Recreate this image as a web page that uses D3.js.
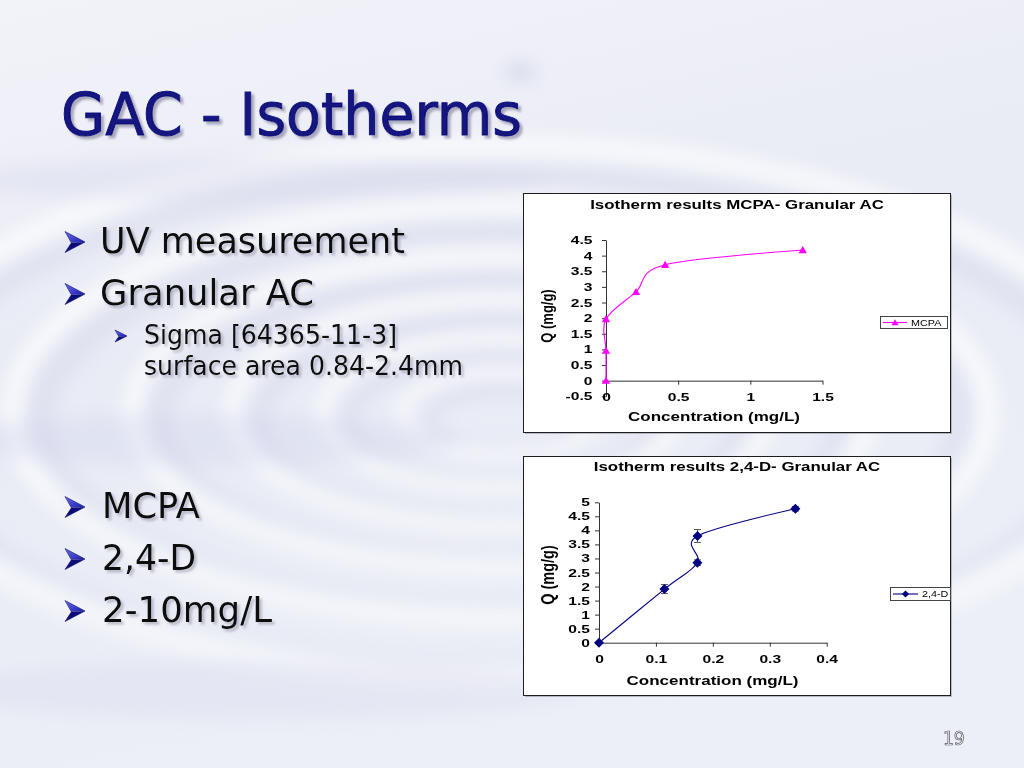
<!DOCTYPE html>
<html><head><meta charset="utf-8">
<script src="https://cdn.jsdelivr.net/npm/d3@7"></script>
<style>html,body{margin:0;padding:0;overflow:hidden;background:#e9ebf4}</style>
</head><body>
<svg id="slide" width="1024" height="768" xmlns="http://www.w3.org/2000/svg"></svg>
<script>
// ---------------- data ----------------
const slideTitle = "GAC - Isotherms";
const bulletsTop = ["UV measurement", "Granular AC"];
const subBullet = ["Sigma [64365-11-3]", "surface area 0.84-2.4mm"];
const bulletsBottom = ["MCPA", "2,4-D", "2-10mg/L"];
const pageNumber = "19";

const chartTitles = ["Isotherm results MCPA- Granular AC", "Isotherm results 2,4-D- Granular AC"];
const xAxisTitle = "Concentration (mg/L)";
const yAxisTitle = "Q (mg/g)";
const seriesNames = ["MCPA", "2,4-D"];

const mcpaConc = [0, 0, 0, 0.208, 0.41, 1.363];
const mcpaQ    = [0, 0.96, 1.97, 2.84, 3.71, 4.18];
const mcpaXTicks = [0, 0.5, 1, 1.5];
const mcpaYTicks = [-0.5, 0, 0.5, 1, 1.5, 2, 2.5, 3, 3.5, 4, 4.5];

const d24Conc = [0, 0.115, 0.1728, 0.173, 0.345];
const d24Q    = [0, 1.91, 2.85, 3.8, 4.77];
const d24Err  = [0, 0.16, 0.1, 0.23, 0.08];
const d24XTicks = [0, 0.1, 0.2, 0.3, 0.4];
const d24YTicks = [0, 0.5, 1, 1.5, 2, 2.5, 3, 3.5, 4, 4.5, 5];

// ---------------- slide ----------------
const svg = d3.select("#slide");
const defs = svg.append("defs");

const bg = defs.append("linearGradient").attr("id", "bg").attr("x1", 0).attr("y1", 0).attr("x2", 0.3).attr("y2", 1);
bg.append("stop").attr("offset", "0%").attr("stop-color", "#f2f3f9");
bg.append("stop").attr("offset", "45%").attr("stop-color", "#e9ebf5");
bg.append("stop").attr("offset", "100%").attr("stop-color", "#edeff7");
defs.append("filter").attr("id", "blur").attr("x", "-20%").attr("y", "-20%").attr("width", "140%").attr("height", "140%")
  .append("feGaussianBlur").attr("stdDeviation", 8);
const ts = defs.append("filter").attr("id", "tshadow").attr("x", "-5%").attr("y", "-20%").attr("width", "115%").attr("height", "150%");
ts.append("feDropShadow").attr("dx", 2.5).attr("dy", 2.5).attr("stdDeviation", 1)
  .attr("flood-color", "#8a8aa0").attr("flood-opacity", 0.55);
const tsT = defs.append("filter").attr("id", "tshadowT").attr("x", "-5%").attr("y", "-20%").attr("width", "115%").attr("height", "150%");
tsT.append("feDropShadow").attr("dx", 3).attr("dy", 3).attr("stdDeviation", 1.2)
  .attr("flood-color", "#6e6e8c").attr("flood-opacity", 0.55);

svg.append("rect").attr("width", 1024).attr("height", 768).attr("fill", "url(#bg)");

// soft water ripples
const ripples = svg.append("g").attr("filter", "url(#blur)");
const ringR = [70, 150, 240, 340, 460, 600];
ringR.forEach((r, i) => {
  ripples.append("ellipse").attr("cx", 500).attr("cy", 420).attr("rx", r).attr("ry", r * 0.42)
    .attr("fill", "none").attr("stroke", "#cdd0e6").attr("stroke-width", 14 + i * 4).attr("opacity", 0.35);
  ripples.append("ellipse").attr("cx", 500).attr("cy", 412).attr("rx", r + 28).attr("ry", (r + 28) * 0.42)
    .attr("fill", "none").attr("stroke", "#ffffff").attr("stroke-width", 12 + i * 3).attr("opacity", 0.6);
});
ripples.append("ellipse").attr("cx", 250).attr("cy", 180).attr("rx", 300).attr("ry", 22).attr("fill", "#d6d9ec").attr("opacity", 0.4);
ripples.append("ellipse").attr("cx", 200).attr("cy", 440).attr("rx", 260).attr("ry", 26).attr("fill", "#d3d6ea").attr("opacity", 0.4);
ripples.append("ellipse").attr("cx", 260).attr("cy", 690).attr("rx", 320).attr("ry", 30).attr("fill", "#d6d9ec").attr("opacity", 0.35);
ripples.append("ellipse").attr("cx", 520).attr("cy", 72).attr("rx", 16).attr("ry", 9).attr("fill", "#cdd0e4").attr("opacity", 0.6);

const FONT = "'DejaVu Sans Condensed','DejaVu Sans',Tahoma,sans-serif";
function slideText(str, x, y, size, len, fill, filt, stroke) {
  svg.append("text").attr("x", x).attr("y", y).text(str)
    .attr("font-family", FONT).attr("font-size", size).attr("font-stretch", "condensed")
    .attr("textLength", len).attr("lengthAdjust", "spacingAndGlyphs")
    .attr("fill", fill).attr("stroke", fill).attr("stroke-width", stroke || 0)
    .attr("filter", `url(#${filt})`);
}
const arrowGrad = defs.append("linearGradient").attr("id", "arr").attr("x1", 0).attr("y1", 0).attr("x2", 1).attr("y2", 1);
arrowGrad.append("stop").attr("offset", "0%").attr("stop-color", "#6c6cf0");
arrowGrad.append("stop").attr("offset", "100%").attr("stop-color", "#1a1aa8");
function arrow(cx, cy, w, h) {
  const g = svg.append("g").attr("transform", `translate(${cx},${cy})`);
  const tip = [w / 2, 0], top = [-w / 2, -h / 2], bot = [-w / 2, h / 2], notch = [-w * 0.18, h * 0.04];
  g.append("path").attr("d", `M${top}L${tip}L${notch}Z`).attr("fill", "url(#arr)");
  g.append("path").attr("d", `M${notch}L${tip}L${bot}Z`).attr("fill", "#0c0c78");
  g.append("path").attr("d", `M${top}L${tip}L${bot}L${notch}Z`).attr("fill", "none").attr("stroke", "#101070").attr("stroke-width", 0.6);
}

slideText(slideTitle, 61, 135, 59, 461, "#12127f", "tshadowT", 0.9);

const topBase = [253, 305];
bulletsTop.forEach((t, i) => { arrow(75, topBase[i] - 11, 20, 21); });
slideText(bulletsTop[0], 100, topBase[0], 35, 305, "#0a0a0a", "tshadow");
slideText(bulletsTop[1], 100, topBase[1], 35, 214, "#0a0a0a", "tshadow");
arrow(121, 336, 12, 12);
slideText(subBullet[0], 144, 344, 27, 253, "#0a0a0a", "tshadow");
slideText(subBullet[1], 144, 375, 27, 319, "#0a0a0a", "tshadow");

const botBase = [518, 570, 622];
const botLen = [98, 94, 170];
bulletsBottom.forEach((t, i) => {
  arrow(75, botBase[i] - 11, 20, 21);
  slideText(t, 102, botBase[i], 35, botLen[i], "#0a0a0a", "tshadow");
});

svg.append("text").attr("x", 943).attr("y", 745).text(pageNumber)
  .attr("font-family", FONT).attr("font-size", 19).attr("fill", "#f4f4f8").attr("stroke", "#55555f").attr("stroke-width", 0.7);

// ---------------- charts ----------------
const CF = "'Liberation Sans',Arial,Helvetica,sans-serif";
function stext(g, x, y, str, o) {
  return g.append("text").attr("transform", `translate(${x},${y}) scale(${o.sx},1)` + (o.rot ? ` rotate(${o.rot})` : ""))
    .attr("text-anchor", o.anchor || "middle").attr("font-family", CF).attr("font-size", o.size)
    .attr("font-weight", o.weight || "bold").attr("fill", "#000").text(str);
}

function drawChart(cfg) {
  const g = svg.append("g");
  const [bx0, by0, bx1, by1] = cfg.box;
  g.append("rect").attr("x", bx0 + 2).attr("y", by0 + 2).attr("width", bx1 - bx0).attr("height", by1 - by0).attr("fill", "rgba(90,90,110,0.35)");
  g.append("rect").attr("x", bx0 + 0.5).attr("y", by0 + 0.5).attr("width", bx1 - bx0).attr("height", by1 - by0)
    .attr("fill", "#fff").attr("stroke", "#1e1e1e").attr("stroke-width", 1);

  const x = d3.scaleLinear().domain(cfg.xDomain).range(cfg.xRange);
  const y = d3.scaleLinear().domain(cfg.yDomain).range(cfg.yRange);

  stext(g, (bx0 + bx1) / 2 + 0.5, cfg.titleY, cfg.title, { size: 13, sx: 1.3 });
  stext(g, cfg.xTitlePos[0], cfg.xTitlePos[1], xAxisTitle, { size: 13.5, sx: 1.26 });
  stext(g, cfg.yTitlePos[0], cfg.yTitlePos[1], yAxisTitle, { size: cfg.yTitleSize, sx: 1.25, rot: -90 });

  const TS = 11, SX = 1.42;
  const ya = g.append("g").attr("transform", `translate(${x(0)},0)`)
    .call(d3.axisLeft(y).tickValues(cfg.yTicks).tickSize(4).tickSizeOuter(0).tickPadding(cfg.yPad).tickFormat(d => String(d)));
  const xa = g.append("g").attr("transform", `translate(0,${y(0)})`)
    .call(d3.axisBottom(x).tickValues(cfg.xTicks).tickSize(4).tickSizeOuter(0).tickPadding(8.5).tickFormat(d => String(d)));
  [ya, xa].forEach(a => {
    a.attr("font-family", CF).attr("font-size", TS).attr("font-weight", "bold");
    a.select(".domain").attr("stroke", "#333");
    a.selectAll(".tick line").attr("stroke", "#333");
    a.selectAll(".tick text").attr("fill", "#000").each(function () {
      const t = d3.select(this);
      t.attr("x", (+t.attr("x") || 0) / SX).attr("transform", `scale(${SX},1)`);
    });
  });

  const pts = cfg.xs.map((v, i) => [x(v), y(cfg.ys[i])]);
  const line = d3.line().curve(d3.curveCardinal.tension(0));
  g.append("path").attr("d", line(pts)).attr("fill", "none").attr("stroke", cfg.color).attr("stroke-width", 1.1);

  if (cfg.err) {
    cfg.err.forEach((e, i) => {
      if (!e) return;
      const cx = x(cfg.xs[i]), y1 = y(cfg.ys[i] + e), y2 = y(cfg.ys[i] - e);
      g.append("path").attr("d", `M${cx},${y1}V${y2}M${cx - 3.5},${y1}H${cx + 3.5}M${cx - 3.5},${y2}H${cx + 3.5}`)
        .attr("stroke", "#555").attr("stroke-width", 1).attr("fill", "none");
    });
  }
  pts.forEach(p => {
    g.append("path").attr("d", cfg.symbol).attr("transform", `translate(${p[0]},${p[1]})` + cfg.symRot)
      .attr("fill", cfg.color);
  });

  // legend
  const [lx0, ly0, lx1, ly1] = cfg.legendBox;
  g.append("rect").attr("x", lx0 + 0.5).attr("y", ly0 + 0.5).attr("width", lx1 - lx0).attr("height", ly1 - ly0)
    .attr("fill", "#fff").attr("stroke", "#444").attr("stroke-width", 1);
  const lm = (ly0 + ly1) / 2 + 0.5;
  g.append("line").attr("x1", cfg.legendLine[0]).attr("x2", cfg.legendLine[1]).attr("y1", lm).attr("y2", lm)
    .attr("stroke", cfg.color).attr("stroke-width", 1.1);
  g.append("path").attr("d", cfg.legendSymbol).attr("transform", `translate(${(cfg.legendLine[0] + cfg.legendLine[1]) / 2},${lm})` + cfg.symRot)
    .attr("fill", cfg.color);
  stext(g, cfg.legendLine[1] + 4, lm + 3.3, cfg.name, { size: 9, sx: 1.2, weight: "normal", anchor: "start" });
}

drawChart({
  box: [523, 193, 950, 432],
  title: chartTitles[0], titleY: 208.5,
  xTitlePos: [714, 420.5], yTitlePos: [553, 316], yTitleSize: 13,
  xDomain: [0, 1.5], xRange: [606, 822.5],
  yDomain: [-0.5, 4.5], yRange: [396.3, 240],
  xTicks: mcpaXTicks, yTicks: mcpaYTicks, yPad: 9.5,
  xs: mcpaConc, ys: mcpaQ, color: "#ff00ff", name: seriesNames[0],
  symbol: d3.symbol(d3.symbolTriangle, 30)(), symRot: " translate(0,0.8)",
  legendBox: [880, 316, 947, 328], legendLine: [883, 907],
  legendSymbol: d3.symbol(d3.symbolTriangle, 22)()
});

drawChart({
  box: [523, 456, 950, 695],
  title: chartTitles[1], titleY: 471,
  xTitlePos: [712.5, 684.5], yTitlePos: [554, 575], yTitleSize: 14.5,
  xDomain: [0, 0.4], xRange: [599, 826.7],
  yDomain: [0, 5], yRange: [642.7, 502.3],
  xTicks: d24XTicks, yTicks: d24YTicks, yPad: 5,
  xs: d24Conc, ys: d24Q, err: d24Err, color: "#000080", name: seriesNames[1],
  symbol: d3.symbol(d3.symbolSquare, 50)(), symRot: " rotate(45)",
  legendBox: [890, 587, 950, 600], legendLine: [893, 918],
  legendSymbol: d3.symbol(d3.symbolSquare, 26)()
});
</script>
</body></html>
